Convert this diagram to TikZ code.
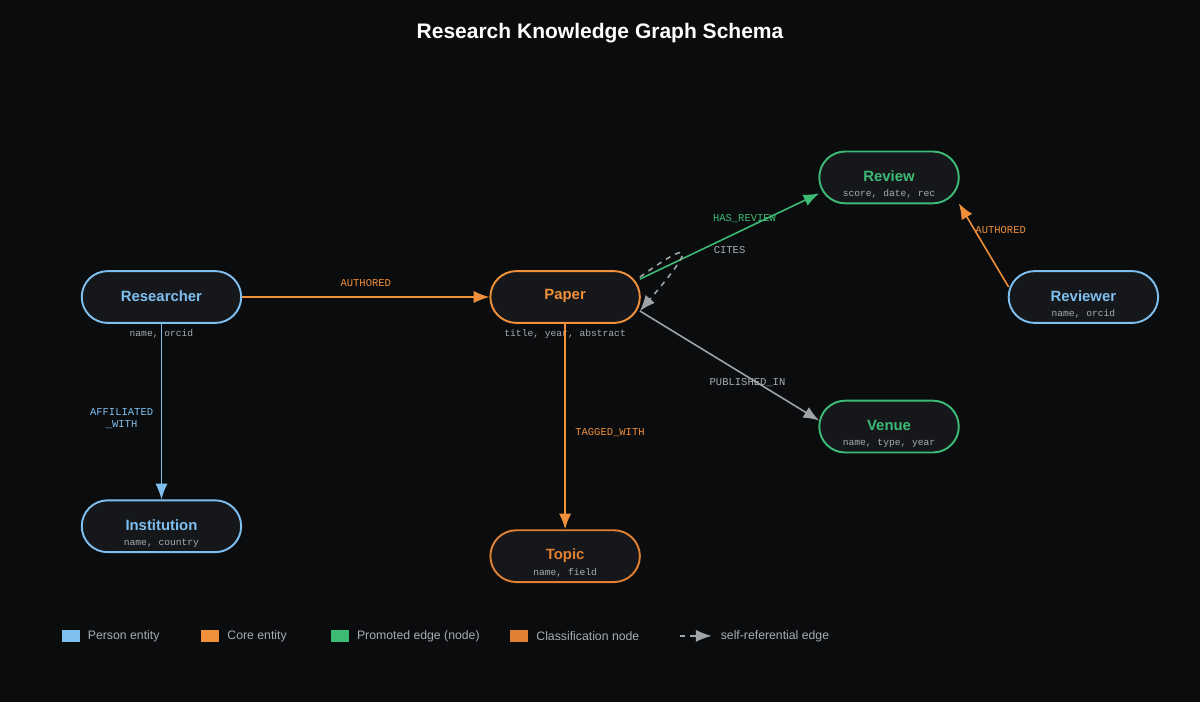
\documentclass[tikz,border=0pt]{standalone}
\usepackage{fontspec}
\setmainfont{Liberation Sans}
\newfontfamily\monofont{Liberation Mono}
\usetikzlibrary{arrows.meta,positioning}
\definecolor{bgcol}{HTML}{0B0C0E}
\definecolor{boxfill}{HTML}{15171B}
\definecolor{personc}{HTML}{7FBFEF}
\definecolor{corec}{HTML}{F0903A}
\definecolor{promc}{HTML}{3DBB75}
\definecolor{classc}{HTML}{E08030}
\definecolor{edgegray}{HTML}{A0A4A8}
\definecolor{subgray}{HTML}{A8ACB0}
\begin{document}
\begin{tikzpicture}[x=0.02cm,y=-0.02cm,
  entity/.style={draw,line width=1.1pt,fill=boxfill,rounded corners=0.52cm,
    minimum height=1.04cm},
  ename/.style={font=\bfseries\fontsize{8.5}{10}\selectfont},
  sub/.style={font=\monofont\fontsize{5.5}{6.5}\selectfont,text=subgray},
  elabel/.style={font=\monofont\fontsize{6}{7}\selectfont,align=center},
  edge/.style={line width=0.9pt,-{Latex[length=9pt,width=7pt]}},
  legtext/.style={font=\fontsize{7}{8}\selectfont,text=subgray,anchor=west}]
\fill[bgcol] (-2,-2) rectangle (1202,702);
\useasboundingbox (0,0) rectangle (1200,700);
\node[font=\bfseries\fontsize{12}{14}\selectfont,text=white] (title) at (600,31) {Research Knowledge Graph Schema};
% entities
\node[entity,draw=personc,minimum width=3.2cm] (researcher) at (160,296) {};
\node[entity,draw=corec,minimum width=3cm] (paper) at (565,296) {};
\node[entity,draw=promc,minimum width=2.8cm] (review) at (890,176) {};
\node[entity,draw=personc,minimum width=3cm] (reviewer) at (1085,296) {};
\node[entity,draw=promc,minimum width=2.8cm] (venue) at (890,426) {};
\node[entity,draw=personc,minimum width=3.2cm] (institution) at (160,526) {};
\node[entity,draw=classc,minimum width=3cm] (topic) at (565,556) {};
% names
\node[ename,text=personc] (researchername) at (160,295) {Researcher};
\node[ename,text=corec] (papername) at (565,295) {Paper};
\node[ename,text=promc] (reviewname) at (890,175) {Review};
\node[ename,text=personc] (reviewername) at (1085,295) {Reviewer};
\node[ename,text=promc] (venuename) at (890,425) {Venue};
\node[ename,text=personc] (institutionname) at (160,525) {Institution};
\node[ename,text=classc] (topicname) at (565,555) {Topic};
% attributes
\node[sub] (researcherattr) at (160,333) {name, orcid};
\node[sub] (paperattr) at (565,333) {title, year, abstract};
\node[sub] (reviewattr) at (890,193) {score, date, rec};
\node[sub] (reviewerattr) at (1085,313) {name, orcid};
\node[sub] (venueattr) at (890,443) {name, type, year};
\node[sub] (institutionattr) at (160,543) {name, country};
\node[sub] (topicattr) at (565,573) {name, field};
% edges
\draw[edge,corec] (researcher) -- (paper);
\node[elabel,text=corec] (l1) at (365,282) {AUTHORED};
\draw[edge,personc] (researcher) -- (institution);
\node[elabel,text=personc] (l2) at (120,418) {AFFILIATED\\\_WITH};
\draw[edge,corec] (paper) -- (topic);
\node[elabel,text=corec] (l3) at (610,432) {TAGGED\_WITH};
\coordinate (hr) at (640,278);
\coordinate (hrend) at (820,192);
\draw[edge,promc] (hr) -- (hrend);
\node[elabel,text=promc] (l4) at (745,217) {HAS\_REVIEW};
\coordinate (pv) at (640,310);
\coordinate (pvend) at (820,420);
\draw[edge,edgegray] (pv) -- (pvend);
\node[elabel,text=subgray] (l5) at (748,382) {PUBLISHED\_IN};
\coordinate (rv) at (1010,286);
\coordinate (rvend) at (960,202);
\draw[edge,corec] (rv) -- (rvend);
\node[elabel,text=corec] (l6) at (1002,229) {AUTHORED};
\coordinate (cs) at (640,276);
\coordinate (ce) at (640,310);
\draw[edge,edgegray,dashed] (cs) .. controls (690,240) and (700,240) .. (ce);
\node[elabel,text=subgray] (l7) at (730,249) {CITES};
% legend
\fill[personc] (60,630) rectangle (78,642);
\node[legtext] (lg1) at (80,636) {Person entity};
\fill[corec] (200,630) rectangle (218,642);
\node[legtext] (lg2) at (220,636) {Core entity};
\fill[promc] (330,630) rectangle (348,642);
\node[legtext] (lg3) at (350,636) {Promoted edge (node)};
\fill[classc] (510,630) rectangle (528,642);
\node[legtext] (lg4) at (530,636) {Classification node};
\coordinate (la) at (680,636);
\coordinate (lb) at (712,636);
\draw[edge,edgegray,dashed] (la) -- (lb);
\node[legtext] (lg5) at (715,636) {self-referential edge};
\end{tikzpicture}
\end{document}
